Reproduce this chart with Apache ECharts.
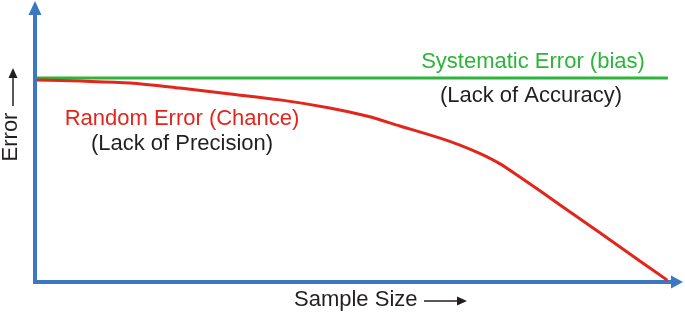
<!DOCTYPE html>
<html>
<head>
<meta charset="utf-8">
<script src="https://cdn.jsdelivr.net/npm/echarts@6/dist/echarts.min.js"></script>
<style>html,body{margin:0;padding:0;background:#fff}#c{width:685px;height:314px}</style>
</head>
<body>
<div id="c"></div>
<script>
// Random error curve (sample size vs error), arbitrary units 0..100
const randomX = [0.3, 7.1, 14.9, 22.7, 30.6, 38.4, 46.2, 52.0, 57.2, 63.5, 66.6, 69.7, 72.9, 76.0, 79.2, 82.3, 88.6, 94.8, 99.1];
const randomY = [75.1, 74.7, 74.0, 72.1, 69.9, 67.7, 64.7, 61.7, 58.0, 53.5, 50.9, 47.8, 43.9, 39.0, 33.8, 28.6, 18.2, 7.8, 0.7];
// Systematic error (bias): constant
const biasX = [0.3, 99.2];
const biasY = [75.8, 75.8];
const labels = {
  xName: 'Sample Size',
  yName: 'Error',
  random: 'Random Error (Chance)',
  precision: '(Lack of Precision)',
  bias: 'Systematic Error (bias)',
  accuracy: '(Lack of Accuracy)'
};

const FONT = '"Liberation Sans", Arial, Helvetica, sans-serif';
const BLUE = '#3a78c2', RED = '#e2261c', GREEN = '#2cb53a', TXT = '#231f20';
const FS = '22px ';

const chart = echarts.init(document.getElementById('c'));
const G = { left: 35, right: 12, top: 13, bottom: 32 };
const W = 685, H = 314;
const xEnd = W - G.right, yEnd = G.top, x0 = G.left, y0 = H - G.bottom;

chart.setOption({
  animation: false,
  grid: G,
  xAxis: {
    type: 'value', min: 0, max: 100,
    axisLine: { show: true, lineStyle: { color: BLUE, width: 4, cap: 'square' } },
    axisTick: { show: false }, axisLabel: { show: false }, splitLine: { show: false }
  },
  yAxis: {
    type: 'value', min: 0, max: 100,
    axisLine: { show: true, lineStyle: { color: BLUE, width: 4, cap: 'square' } },
    axisTick: { show: false }, axisLabel: { show: false }, splitLine: { show: false }
  },
  series: [
    {
      type: 'line', data: biasX.map((x, i) => [x, biasY[i]]),
      showSymbol: false, lineStyle: { color: GREEN, width: 3 }, z: 3
    },
    {
      type: 'line', data: randomX.map((x, i) => [x, randomY[i]]),
      smooth: 0.3, showSymbol: false, lineStyle: { color: RED, width: 3 }, z: 4
    }
  ],
  graphic: [
    // axis arrow heads
    { type: 'polygon', shape: { points: [[xEnd + 10, y0], [xEnd - 2, y0 - 6.5], [xEnd - 2, y0 + 6.5]] }, style: { fill: BLUE }, z: 10 },
    { type: 'polygon', shape: { points: [[x0, yEnd - 12], [x0 - 6.5, yEnd + 2], [x0 + 6.5, yEnd + 2]] }, style: { fill: BLUE }, z: 10 },
    { type: 'text', x: 182, y: 119, style: { text: labels.random, fill: RED, font: FS + FONT, textAlign: 'center', textVerticalAlign: 'middle' } },
    { type: 'text', x: 182, y: 143.5, style: { text: labels.precision, fill: TXT, font: FS + FONT, textAlign: 'center', textVerticalAlign: 'middle' } },
    { type: 'text', x: 533, y: 61.5, style: { text: labels.bias, fill: GREEN, font: FS + FONT, textAlign: 'center', textVerticalAlign: 'middle' } },
    { type: 'text', x: 531, y: 95.5, style: { text: labels.accuracy, fill: TXT, font: FS + FONT, textAlign: 'center', textVerticalAlign: 'middle' } },
    { type: 'text', x: 294, y: 299.5, style: { text: labels.xName, fill: TXT, font: FS + FONT, textAlign: 'left', textVerticalAlign: 'middle' } },
    { type: 'line', shape: { x1: 424, y1: 301, x2: 459, y2: 301 }, style: { stroke: TXT, lineWidth: 1.5 } },
    { type: 'polygon', shape: { points: [[467, 301], [457, 296.5], [457, 305.5]] }, style: { fill: TXT } },
    { type: 'text', x: 10.5, y: 137, rotation: Math.PI / 2, style: { text: labels.yName, fill: TXT, font: FS + FONT, textAlign: 'center', textVerticalAlign: 'middle' } },
    { type: 'line', shape: { x1: 13, y1: 106, x2: 13, y2: 76 }, style: { stroke: TXT, lineWidth: 1.5 } },
    { type: 'polygon', shape: { points: [[13, 68], [8.5, 78], [17.5, 78]] }, style: { fill: TXT } }
  ]
});
</script>
</body>
</html>
